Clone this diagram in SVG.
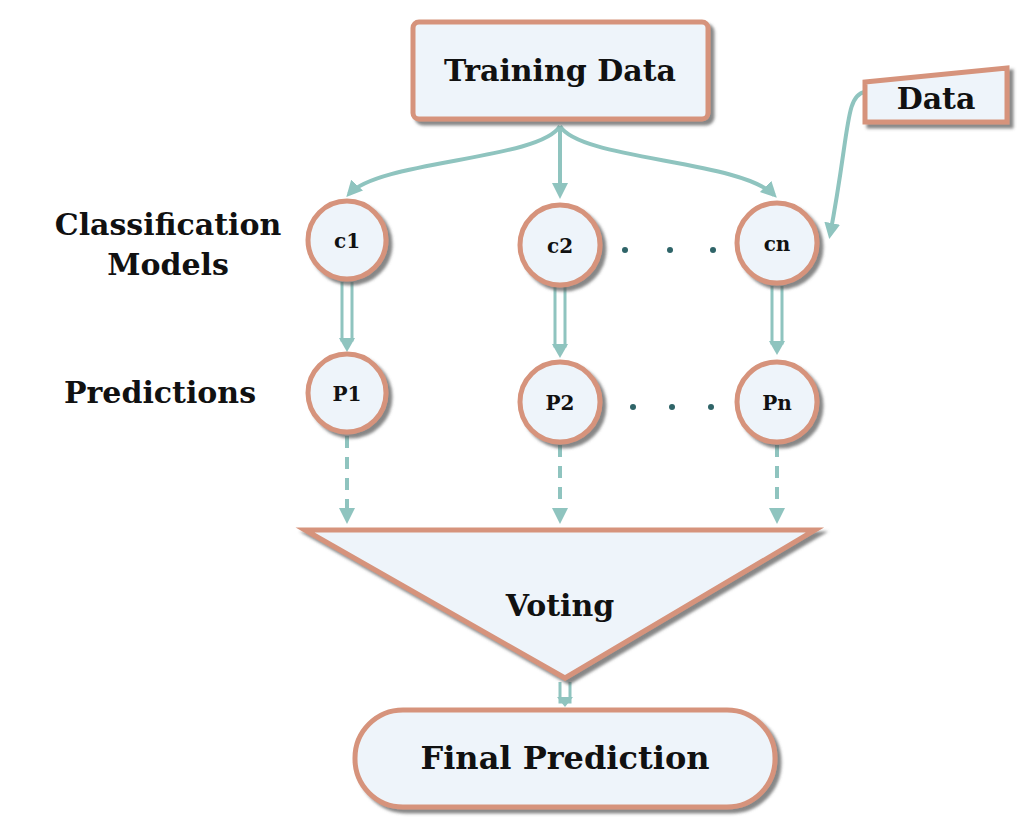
<svg xmlns="http://www.w3.org/2000/svg" width="1025" height="826" viewBox="0 0 1025 826">
<style>
.n{fill:#eef4fa;stroke:#d6937b;stroke-width:5;filter:url(#sh)}
.t{font-family:"DejaVu Serif","Liberation Serif",serif;font-weight:bold;fill:#111;text-anchor:middle}
.c{fill:none;stroke:#8fc4bf;stroke-width:4}
.dd{fill:none;stroke:#8fc4bf;stroke-width:4;stroke-dasharray:12 9}
.dot{fill:#2f6468}
</style>
<defs>
<filter id="sh" x="-20%" y="-20%" width="140%" height="140%"><feDropShadow dx="4" dy="4" stdDeviation="1.5" flood-color="#555" flood-opacity="0.7"/></filter>
<marker id="a" markerWidth="5" markerHeight="5" refX="3" refY="2" orient="auto" markerUnits="strokeWidth"><path d="M0,0L4,2L0,4z" fill="#8fc4bf"/></marker>
</defs>
<g id="labels">
<text class="t" x="168" y="235" font-size="30">Classification</text>
<text class="t" x="168" y="275" font-size="30">Models</text>
<text class="t" x="160" y="403" font-size="30">Predictions</text>
</g>
<g id="connectors">
<path class="c" d="M560,126 C540,160 380,160 349,194" marker-end="url(#a)"/>
<path class="c" d="M560,126 L560,195" marker-end="url(#a)"/>
<path class="c" d="M560,126 C580,160 740,160 774,195" marker-end="url(#a)"/>
<path class="c" d="M865,92 C845,95 850,130 830,235" marker-end="url(#a)"/>
<g>
<path d="M342,282V340H352V282" fill="#fff" stroke="#8fc4bf" stroke-width="3"/><path d="M339,338L355,338L347,352z" fill="#8fc4bf"/>
<path d="M555,287V346H565V287" fill="#fff" stroke="#8fc4bf" stroke-width="3"/><path d="M552,344L568,344L560,358z" fill="#8fc4bf"/>
<path d="M772,286V343H782V286" fill="#fff" stroke="#8fc4bf" stroke-width="3"/><path d="M769,341L785,341L777,355z" fill="#8fc4bf"/>
<path d="M560,682V702H570V682" fill="#fff" stroke="#8fc4bf" stroke-width="3"/><path d="M557,697L573,697L565,707z" fill="#8fc4bf"/>
</g>
<path class="dd" d="M347,436L347,520" marker-end="url(#a)"/>
<path class="dd" d="M560,445L560,520" marker-end="url(#a)"/>
<path class="dd" d="M777,445L777,520" marker-end="url(#a)"/>
</g>
<g id="training"><rect class="n" x="413" y="22" width="295" height="97" rx="6"/><text class="t" x="560" y="81" font-size="30">Training Data</text></g>
<g id="data"><path class="n" d="M865,82L1007,68L1007,122L865,122z"/><text class="t" x="936" y="109" font-size="30">Data</text></g>
<g id="c1"><circle class="n" cx="347" cy="240" r="39"/><text class="t" x="347" y="248" font-size="20">c1</text></g>
<g id="c2"><circle class="n" cx="560" cy="245" r="40"/><text class="t" x="560" y="253" font-size="20">c2</text></g>
<g id="cn"><circle class="n" cx="777" cy="243" r="40"/><text class="t" x="777" y="251" font-size="20">cn</text></g>
<g id="p1"><circle class="n" cx="347" cy="393" r="39"/><text class="t" x="347" y="401" font-size="20">P1</text></g>
<g id="p2"><circle class="n" cx="560" cy="402" r="40"/><text class="t" x="560" y="410" font-size="20">P2</text></g>
<g id="pn"><circle class="n" cx="777" cy="402" r="40"/><text class="t" x="777" y="410" font-size="20">Pn</text></g>
<g id="dots">
<circle class="dot" cx="625" cy="250" r="3"/><circle class="dot" cx="670" cy="250" r="3"/><circle class="dot" cx="713" cy="250" r="3"/>
<circle class="dot" cx="633" cy="407" r="3"/><circle class="dot" cx="672" cy="407" r="3"/><circle class="dot" cx="711" cy="407" r="3"/>
</g>
<g id="voting"><path class="n" d="M305,530L815,530L565,678z"/><text class="t" x="560" y="616" font-size="30">Voting</text></g>
<g id="final"><rect class="n" x="355" y="710" width="420" height="97" rx="48"/><text class="t" x="565" y="769" font-size="32">Final Prediction</text></g>
</svg>
